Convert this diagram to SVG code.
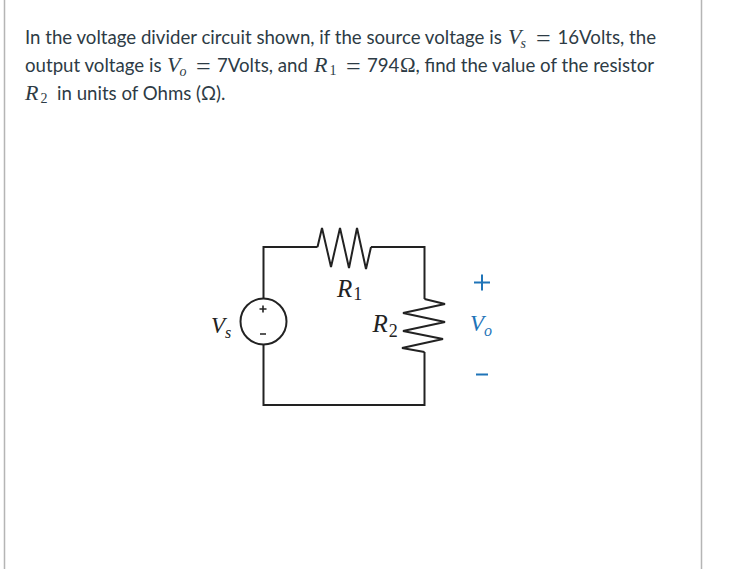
<svg xmlns="http://www.w3.org/2000/svg" width="737" height="569" viewBox="0 0 737 569">
<style>
.t{font-family:Lato,"Liberation Sans",sans-serif;font-size:18.65px;fill:#2d3b45}
.mt{font-family:"Liberation Serif",serif;font-style:italic;font-size:22px;fill:#2d3b45}
.sub{font-size:14px;font-style:normal}
.subi{font-size:14px}
.eq{font-family:"Liberation Serif",serif;font-size:26px;fill:#2d3b45}
.om{font-family:"Liberation Serif",serif;font-size:21px;fill:#2d3b45}
.w{fill:none;stroke:#222;stroke-width:2}
.c{font-family:"Liberation Serif",serif;font-style:italic;font-size:25px;fill:#222}
.v{font-size:23px}
.cs{font-size:16px}
.cn{font-size:18px;font-style:normal}
.b{font-family:"Liberation Serif",serif;font-style:italic;font-size:23px;fill:#1f74b8}
</style>
<rect width="737" height="569" fill="#fff"/>
<path d="M4.500 0V569M701.500 0V569" stroke="#b5b5b5" stroke-width="1.500" fill="none"/>
<g id="question">
<text class="t" x="25" y="44">In the voltage divider circuit shown, if the source voltage is</text>
<text class="mt" x="508" y="44">V<tspan class="subi" dx="-1" dy="4">s</tspan></text>
<text class="eq" x="536" y="46.500">=</text>
<text class="t" x="557.500" y="44">16Volts, the</text>
<text class="t" x="25" y="72">output voltage is</text>
<text class="mt" x="167" y="72">V<tspan class="subi" dx="-1" dy="4">o</tspan></text>
<text class="eq" x="196" y="74.500">=</text>
<text class="t" x="217" y="72">7Volts, and</text>
<text class="mt" x="314" y="72">R<tspan class="sub" dx="2" dy="3">1</tspan></text>
<text class="eq" x="346" y="74.500">=</text>
<text class="t" x="367" y="72">794</text><text class="om" x="400" y="72">Ω</text>
<text class="t" x="415.500" y="72">, find the value of the resistor</text>
<text class="mt" x="25" y="100">R<tspan class="sub" dx="2" dy="3">2</tspan></text>
<text class="t" x="57" y="100">in units of Ohms (Ω).</text>
</g>
<g id="connectors">
<path class="w" d="M263.500 298V247H317.500M371 247H424.500V299M424.500 352V405H263.500V345"/>
</g>
<g id="source">
<circle class="w" cx="263.500" cy="321.500" r="23"/>
<path d="M259.500 309H266.500M263 305.500V312.500M260 334H266" stroke="#222" stroke-width="1.600" fill="none"/>
<text class="c v" x="211" y="333">V<tspan class="cs" dy="5">s</tspan></text>
</g>
<g id="r1">
<path class="w" d="M317.500 247L322 228L331 267L340 228L349 268L357 228L366 269L371 247"/>
<text class="c" x="337" y="297">R<tspan class="cn" dx="1" dy="3">1</tspan></text>
</g>
<g id="r2">
<path class="w" d="M424.500 299L445 304L403 313L445 322L403 331L443 339L402 348L424.500 352"/>
<text class="c" x="372.500" y="332">R<tspan class="cn" dx="1" dy="5">2</tspan></text>
</g>
<g id="vo">
<path d="M474 282.500H490M482 274.500V290.500M476 374.500H488" stroke="#1f74b8" stroke-width="2" fill="none"/>
<text class="b" x="470" y="331">V<tspan class="cs" dy="5">o</tspan></text>
</g>
</svg>
